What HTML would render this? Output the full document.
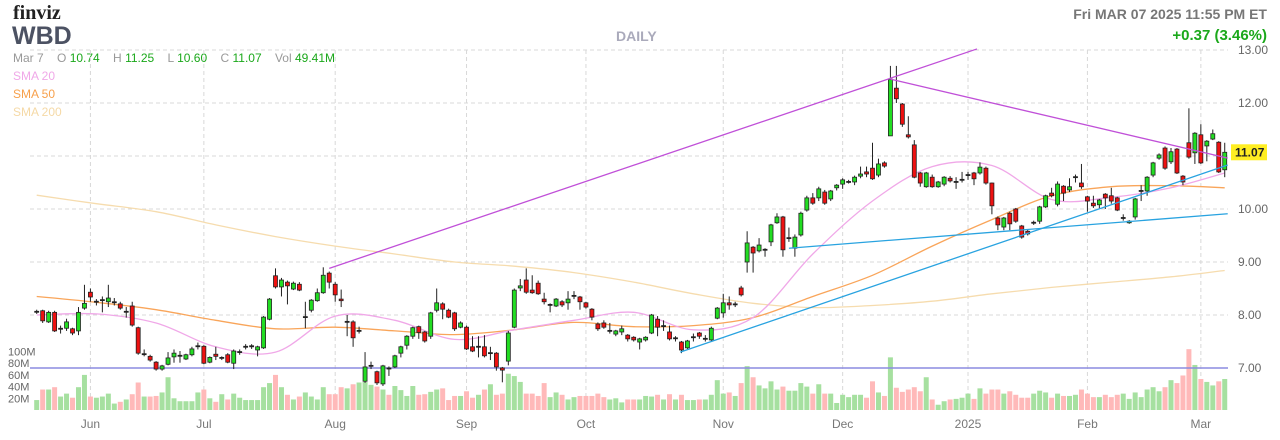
<!DOCTYPE html>
<html><head><meta charset="utf-8">
<style>
html,body{margin:0;padding:0;background:#fff;width:1280px;height:440px;overflow:hidden;font-family:"Liberation Sans",sans-serif;}
#wrap{position:relative;width:1280px;height:440px;}
svg{position:absolute;left:0;top:0;}
.t{position:absolute;white-space:nowrap;}
</style></head><body>
<div id="wrap">
<div class="t" style="left:13px;top:2px;font-family:'Liberation Serif',serif;font-weight:bold;font-size:20px;color:#222;">finviz</div>
<div class="t" style="left:12px;top:22px;font-weight:bold;font-size:25px;color:#4c5263;">WBD</div>
<div class="t" style="left:616px;top:28px;font-weight:bold;font-size:14px;color:#aab;">DAILY</div>
<div class="t" style="right:13px;top:6px;font-weight:bold;font-size:14px;color:#777;">Fri MAR 07 2025 11:55 PM ET</div>
<div class="t" style="right:13px;top:27px;font-weight:bold;font-size:15px;color:#1ba81b;">+0.37 (3.46%)</div>
<div class="t" style="left:13px;top:51px;font-size:12px;color:#999;">Mar 7 &nbsp;&nbsp; O <span style="color:#1ba81b">10.74</span> &nbsp;&nbsp; H <span style="color:#1ba81b">11.25</span> &nbsp;&nbsp; L <span style="color:#1ba81b">10.60</span> &nbsp;&nbsp; C <span style="color:#1ba81b">11.07</span> &nbsp;&nbsp; Vol <span style="color:#1ba81b">49.41M</span></div>
<div class="t" style="left:13px;top:69px;font-size:12px;color:#f0a8e8;">SMA 20</div>
<div class="t" style="left:13px;top:87px;font-size:12px;color:#f7a04b;">SMA 50</div>
<div class="t" style="left:13px;top:105px;font-size:12px;color:#f5d9a6;">SMA 200</div>
<svg id="chart" width="1280" height="440"></svg>
</div>
<script>
const opens=[8.06,8.08,7.87,8.05,7.74,7.75,7.74,7.70,8.13,8.43,8.25,8.28,8.25,8.24,8.21,8.06,8.17,7.76,7.26,7.22,7.11,6.98,7.07,7.21,7.23,7.17,7.25,7.41,7.41,7.11,7.26,7.19,7.25,7.09,7.30,7.40,7.40,7.34,7.38,7.92,8.74,8.53,8.62,8.49,8.58,7.96,8.09,8.27,8.42,8.79,8.58,8.30,7.87,7.87,7.70,6.75,7.04,6.93,6.70,7.00,7.02,7.28,7.43,7.60,7.78,7.68,7.60,8.09,8.21,8.09,8.04,7.77,7.77,7.40,7.40,7.40,7.28,7.28,7.00,7.13,7.77,8.51,8.66,8.47,8.60,8.30,8.19,8.17,8.25,8.23,8.36,8.34,8.23,8.11,7.83,7.85,7.70,7.64,7.68,7.62,7.58,7.49,7.53,7.66,7.92,7.79,7.68,7.56,7.49,7.38,7.58,7.66,7.55,7.53,7.94,8.04,8.23,8.20,8.51,9.00,9.28,9.21,9.23,9.38,9.74,9.85,9.45,9.26,9.51,9.98,10.21,10.21,10.32,10.19,10.40,10.47,10.51,10.51,10.62,10.70,10.77,10.64,10.87,11.38,12.28,11.98,11.40,11.21,10.68,10.42,10.60,10.42,10.47,10.58,10.51,10.55,10.64,10.68,10.68,10.77,10.49,9.83,9.66,9.92,10.00,9.68,9.58,9.74,9.77,10.04,10.30,10.09,10.43,10.36,10.60,10.49,10.23,10.11,10.08,10.28,10.25,10.21,9.83,9.74,9.85,10.34,10.34,10.64,10.96,11.15,10.89,11.13,10.62,11.25,11.06,11.40,11.19,11.32,11.26,10.74];
const closes=[8.07,7.89,8.05,7.70,7.75,7.87,7.66,8.05,8.22,8.34,8.26,8.29,8.32,8.25,8.13,8.07,7.81,7.28,7.27,7.15,6.98,7.04,7.19,7.28,7.24,7.25,7.36,7.42,7.09,7.20,7.22,7.20,7.11,7.32,7.31,7.41,7.42,7.40,7.96,8.30,8.53,8.66,8.55,8.60,8.47,7.97,8.28,8.42,8.75,8.62,8.38,8.27,7.88,7.57,7.71,7.02,7.05,6.72,7.04,6.99,7.23,7.40,7.60,7.76,7.67,7.51,8.04,8.23,8.11,7.96,7.74,7.85,7.36,7.32,7.41,7.23,7.29,7.02,6.96,7.66,8.47,8.55,8.43,8.42,8.40,8.25,8.20,8.30,8.19,8.30,8.37,8.25,8.15,7.96,7.74,7.77,7.71,7.70,7.74,7.55,7.53,7.55,7.58,8.00,7.77,7.80,7.55,7.57,7.34,7.51,7.59,7.60,7.56,7.75,8.13,8.23,8.19,8.21,8.38,9.36,9.17,9.32,9.24,9.70,9.85,9.23,9.46,9.47,9.92,10.21,10.11,10.38,10.11,10.34,10.45,10.55,10.52,10.60,10.66,10.66,10.57,10.85,10.81,12.45,12.08,11.60,11.36,10.60,10.49,10.68,10.42,10.51,10.60,10.53,10.52,10.56,10.65,10.57,10.79,10.49,10.06,9.70,9.83,9.72,9.77,9.47,9.53,9.75,10.04,10.25,10.25,10.47,10.30,10.42,10.61,10.42,10.15,10.06,10.17,10.21,10.15,9.98,9.84,9.77,10.19,10.35,10.60,10.87,11.02,10.77,11.08,10.68,10.51,10.98,11.43,10.87,11.28,11.42,10.70,11.07];
const highs=[8.10,8.10,8.08,8.08,7.80,7.93,7.76,8.15,8.57,8.50,8.30,8.35,8.57,8.32,8.25,8.15,8.25,7.78,7.35,7.25,7.13,7.06,7.30,7.35,7.32,7.27,7.40,7.48,7.43,7.22,7.40,7.22,7.28,7.35,7.35,7.45,7.45,7.42,7.98,8.32,8.88,8.70,8.65,8.63,8.62,8.25,8.30,8.50,8.90,8.82,8.62,8.48,8.00,7.90,7.78,7.30,7.12,6.95,7.06,7.03,7.25,7.42,7.62,7.78,7.80,7.70,8.06,8.50,8.24,8.12,8.06,7.88,7.80,7.60,7.60,7.62,7.40,7.30,7.02,7.70,8.50,8.68,8.88,8.75,8.65,8.42,8.22,8.32,8.28,8.45,8.45,8.36,8.25,8.13,7.86,7.90,7.85,7.72,7.80,7.64,7.60,7.57,7.60,8.02,7.98,7.90,7.80,7.60,7.51,7.53,7.65,7.68,7.62,7.78,8.15,8.40,8.35,8.25,8.55,9.58,9.30,9.45,9.26,9.72,9.92,9.87,9.65,9.52,9.95,10.25,10.30,10.42,10.36,10.36,10.47,10.58,10.55,10.63,10.80,10.80,11.25,10.95,10.90,12.70,12.70,12.00,11.75,11.30,10.70,10.70,10.65,10.53,10.62,10.62,10.60,10.70,10.70,10.70,10.88,10.80,10.50,9.86,9.85,9.95,10.02,9.70,9.62,9.78,10.06,10.27,10.40,10.52,10.45,10.58,10.65,10.85,10.25,10.25,10.19,10.30,10.40,10.23,9.90,9.79,10.21,10.45,10.62,10.89,11.05,11.18,11.15,11.15,10.64,11.90,11.45,11.60,11.30,11.50,11.28,11.25];
const lows=[8.02,7.85,7.85,7.68,7.65,7.70,7.62,7.62,8.10,8.25,8.18,8.05,8.15,8.18,8.10,7.95,7.78,7.25,7.22,7.12,6.95,6.95,7.05,7.10,7.10,7.15,7.22,7.35,7.07,7.09,7.15,7.15,7.09,6.98,7.25,7.35,7.36,7.22,7.36,7.90,8.50,8.35,8.20,8.47,8.45,7.75,8.05,8.25,8.40,8.50,8.25,8.15,7.60,7.40,7.65,6.72,6.98,6.68,6.66,6.85,7.00,7.20,7.35,7.55,7.55,7.48,7.55,8.05,7.92,7.94,7.70,7.75,7.34,7.30,7.20,7.20,7.15,6.95,6.73,7.05,7.75,8.45,8.40,8.40,8.38,8.20,8.05,8.15,8.15,8.10,8.30,8.10,8.12,7.90,7.70,7.74,7.65,7.60,7.62,7.50,7.50,7.35,7.50,7.64,7.60,7.70,7.52,7.50,7.28,7.36,7.50,7.55,7.50,7.50,7.92,7.95,8.10,8.15,8.35,8.80,8.80,9.18,9.10,9.30,9.72,9.10,9.38,9.10,9.48,9.95,10.08,10.15,10.08,10.15,10.35,10.38,10.48,10.45,10.58,10.60,10.55,10.60,10.78,11.38,12.00,11.55,11.33,10.58,10.42,10.40,10.40,10.40,10.43,10.50,10.38,10.50,10.55,10.45,10.65,10.46,9.90,9.60,9.60,9.60,9.74,9.44,9.50,9.70,9.72,10.02,10.22,10.05,10.15,10.32,10.50,10.38,9.95,10.02,10.00,10.00,10.10,9.96,9.78,9.72,9.80,10.15,10.25,10.60,10.93,10.74,10.85,10.66,10.45,10.95,10.85,10.85,10.90,11.30,10.68,10.60];
const volumes=[17,35,35,39,23,28,21,39,60,23,21,23,28,11,14,18,27,47,23,23,24,30,56,20,15,15,15,30,35,20,14,27,18,28,21,17,17,17,39,46,60,39,26,18,23,30,23,18,39,27,27,39,37,44,47,48,43,40,35,26,41,34,24,41,26,27,31,35,37,17,24,24,32,21,26,35,44,26,28,62,58,48,28,28,24,46,22,30,26,18,22,24,24,24,28,22,18,20,13,18,18,18,24,23,26,18,27,18,26,17,17,18,18,26,51,28,30,24,46,75,56,42,37,49,35,40,33,33,46,40,28,44,28,28,12,26,22,26,26,21,49,30,24,90,38,31,35,39,32,56,18,9,15,18,19,21,28,19,37,28,35,35,28,32,26,21,21,28,33,30,21,28,24,24,26,35,28,22,22,26,22,26,28,19,30,22,35,39,32,39,51,46,59,104,77,53,48,42,49,53];
const sma20Samples=[8.00,8.02,7.85,7.40,7.30,7.98,7.90,7.54,7.72,7.90,8.05,7.72,7.95,9.15,10.15,10.80,10.82,10.18,10.22,10.40,10.68];
const sma50Samples=[8.35,8.24,8.10,7.90,7.74,7.77,7.70,7.63,7.72,7.86,7.78,7.80,7.95,8.35,8.75,9.30,9.80,10.25,10.42,10.44,10.40];
const sma200Samples=[10.26,10.10,9.95,9.70,9.48,9.30,9.15,9.00,8.92,8.80,8.62,8.40,8.22,8.14,8.18,8.26,8.40,8.52,8.62,8.72,8.84];
const sampleIdx=[0,10,20,30,40,50,60,70,80,90,100,110,120,130,140,150,160,170,180,190,199];
const priceTicks=[7,8,9,10,11,12,13];
const volTicks=[20,40,60,80,100];
const monthLabels=["Jun","Jul","Aug","Sep","Oct","Nov","Dec","2025","Feb","Mar"];
const monthIdx=[9,28,50,72,92,115,135,156,176,195];
const trendStarts=[[49,8.88],[143,12.45],[107.8,7.30],[126,9.26]];
const trendEnds=[[157.5,13.02],[199.5,10.96],[199.5,10.83],[199.5,9.91]];
const trendColors=["#c050d8","#c050d8","#29a3e0","#29a3e0"];
const lastPrice=11.07;

const NS="http://www.w3.org/2000/svg";
const svg=document.getElementById('chart');
const X0=36.7,DX=5.97,L=30,R=1228;
function xOf(i){return X0+i*DX;}
function yOf(p){return 209-(p-10)*53;}
function vY(v){return 410-v*0.585;}
function mk(tag,attrs,parent){const e=document.createElementNS(NS,tag);for(const k in attrs)e.setAttribute(k,attrs[k]);(parent||svg).appendChild(e);return e;}

const grid=mk('g',{});


priceTicks.forEach(p=>{
  const ln=mk('line',{x1:L,x2:R,y1:yOf(p),y2:yOf(p),stroke:'#d8d8d8','stroke-dasharray':'4,3'},grid);
  
  
  const t=mk('text',{x:1238,y:yOf(p)+4,'font-size':12,fill:'#666','font-family':'Liberation Sans,sans-serif'});
  t.textContent=p.toFixed(2);
  
  
});
monthIdx.forEach((m,k)=>{
  const x=xOf(m);
  const ln=mk('line',{x1:x,x2:x,y1:50,y2:410,stroke:'#d8d8d8','stroke-dasharray':'4,3'},grid);
  
  
  const t=mk('text',{x:x,y:428,'font-size':12,fill:'#777','text-anchor':'middle','font-family':'Liberation Sans,sans-serif'});
  t.textContent=monthLabels[k];
  
  
});
volTicks.forEach(v=>{
  const t=mk('text',{x:8,y:vY(v)+4,'font-size':11,fill:'#666','font-family':'Liberation Sans,sans-serif'});
  t.textContent=v+'M';
  
  
});

volumes.forEach((v,i)=>{
  const up=closes[i]>=opens[i];
  const r=mk('rect',{x:xOf(i)-2.5,y:vY(v),width:5,height:410-vY(v),fill:up?'#a6e0a0':'#ffb9b9'});
  
  
});

function smaLine(samples,color,name){
  const P=samples.map((p,k)=>[xOf(sampleIdx[k]),yOf(p)]);
  let d='M'+P[0][0].toFixed(1)+','+P[0][1].toFixed(1);
  for(let k=0;k<P.length-1;k++){
    const p0=P[Math.max(0,k-1)],p1=P[k],p2=P[k+1],p3=P[Math.min(P.length-1,k+2)];
    const c1=[p1[0]+(p2[0]-p0[0])/6,p1[1]+(p2[1]-p0[1])/6];
    const c2=[p2[0]-(p3[0]-p1[0])/6,p2[1]-(p3[1]-p1[1])/6];
    d+=' C'+c1[0].toFixed(1)+','+c1[1].toFixed(1)+' '+c2[0].toFixed(1)+','+c2[1].toFixed(1)+' '+p2[0].toFixed(1)+','+p2[1].toFixed(1);
  }
  const pl=mk('path',{d:d,fill:'none',stroke:color,'stroke-width':1.3});
  
  
}
smaLine(sma200Samples,'#f6dcae','sma200-line');
smaLine(sma50Samples,'#f9a55a','sma50-line');
smaLine(sma20Samples,'#f0a8e8','sma20-line');

const hl=mk('line',{x1:L,x2:R,y1:yOf(7),y2:yOf(7),stroke:'#8c8ce0','stroke-width':1.5});



const candlesG=mk('g',{});


opens.forEach((o,i)=>{
  const c=closes[i],x=xOf(i),up=c>=o;
  const w=mk('line',{x1:x,x2:x,y1:yOf(highs[i]),y2:yOf(lows[i]),stroke:'#222','stroke-width':1},candlesG);
  
  
  const top=yOf(Math.max(o,c)),bot=yOf(Math.min(o,c));
  const h=Math.max(1,bot-top);
  const b=mk('rect',{x:x-2,y:top,width:4,height:h,fill:h<=1.5?'#222':(up?'#22dd22':'#ee1111'),stroke:'#222','stroke-width':0.8},candlesG);
  
  
});

trendStarts.forEach((s,k)=>{
  const e=trendEnds[k];
  const ln=mk('line',{x1:xOf(s[0]),y1:yOf(s[1]),x2:xOf(e[0]),y2:yOf(e[1]),stroke:trendColors[k],'stroke-width':1.3});
  
  
});

const tag=mk('rect',{x:1231,y:yOf(lastPrice)-8,width:36,height:16,fill:'#ffee22'});


const tt=mk('text',{x:1235,y:yOf(lastPrice)+4,'font-size':12,'font-weight':'bold',fill:'#222','font-family':'Liberation Sans,sans-serif'});
tt.textContent=lastPrice.toFixed(2);


</script>
</body></html>
